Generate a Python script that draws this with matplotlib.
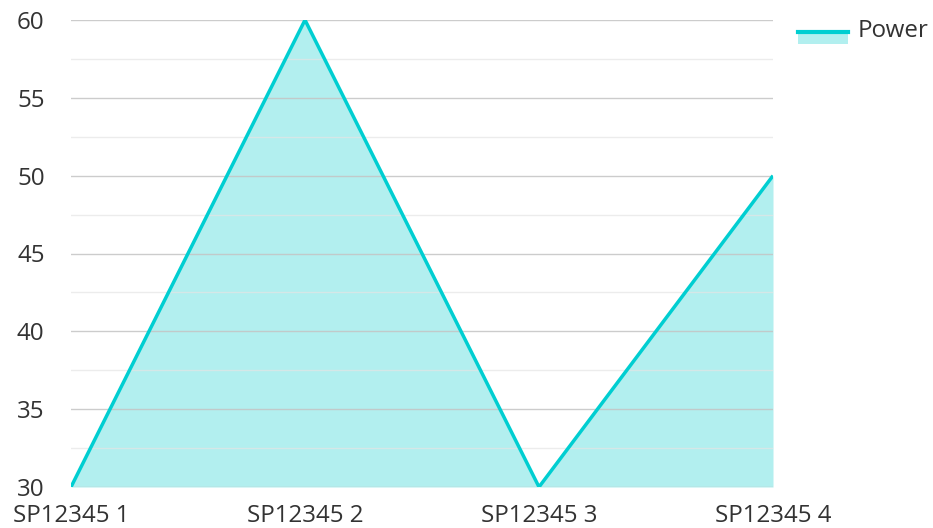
import matplotlib
import matplotlib.pyplot as plt
from matplotlib import font_manager as fm
from matplotlib.lines import Line2D
from matplotlib.patches import Rectangle

matplotlib.use("Agg")

# the variable Open Sans renders condensed, so pick the static regular file
font_path = next((f.fname for f in fm.fontManager.ttflist
                  if f.fname.endswith("OpenSans-Regular.ttf")), None)
if font_path:
    fp = fm.FontProperties(fname=font_path, size=17.4)
else:
    fp = fm.FontProperties(family="DejaVu Sans", size=16)

categories = ["SP12345 1", "SP12345 2", "SP12345 3", "SP12345 4"]
power = [30, 60, 30, 50]

line_color = "#00CED1"
fill_color = "#b2efef"

fig = plt.figure(figsize=(9.33, 5.28), dpi=100)
ax = fig.add_axes([71 / 933, 1 - 487 / 528, (773 - 71) / 933, (487 - 20) / 528])

x = list(range(len(categories)))
ax.fill_between(x, power, 30, color=fill_color, linewidth=0, zorder=1)
ax.plot(x, power, color=line_color, linewidth=2.5, zorder=4, solid_capstyle="butt")

ax.set_xlim(0, len(categories) - 1)
ax.set_ylim(30, 60)
ax.set_yticks(range(30, 61, 5))
ax.set_yticks([y + 2.5 for y in range(30, 60, 5)], minor=True)
ax.set_xticks(x)
ax.set_xticklabels(categories)
for lbl in ax.get_xticklabels() + ax.get_yticklabels():
    lbl.set_fontproperties(fp)

ax.grid(axis="y", which="major", color="#c4c4c4", linewidth=1, alpha=0.85, zorder=2)
ax.grid(axis="y", which="minor", color="#e4e4e4", linewidth=1, alpha=0.7, zorder=2)
ax.set_axisbelow(False)
for s in ax.spines.values():
    s.set_visible(False)
ax.tick_params(axis="both", which="both", length=0, colors="#333333")
ax.tick_params(axis="y", pad=19)
ax.tick_params(axis="x", pad=12)

# legend swatch
fig.add_artist(Rectangle((798 / 933, 1 - 44 / 528), 50 / 933, 12 / 528,
                         transform=fig.transFigure, color=fill_color, linewidth=0))
fig.add_artist(Line2D([798 / 933, 848 / 933], [1 - 32 / 528, 1 - 32 / 528],
                      transform=fig.transFigure, color=line_color, linewidth=3))
fig.text(858 / 933, 1 - 31 / 528, "Power", fontproperties=fp, color="#333333",
         va="center", ha="left")

fig.savefig("out.png", dpi=100)
